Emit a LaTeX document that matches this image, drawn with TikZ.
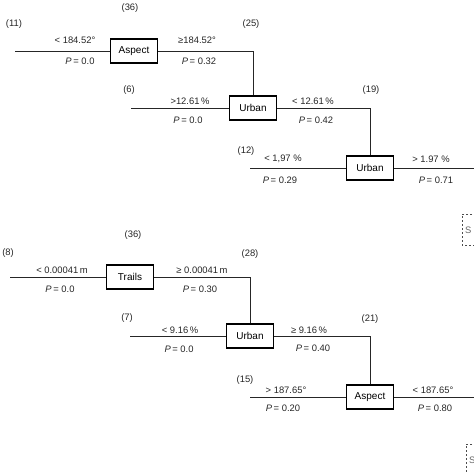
\documentclass[tikz,border=0pt]{standalone}
\usepackage{fontspec}
\setmainfont{Liberation Sans}
\begin{document}
\begin{tikzpicture}[x=1pt,y=-1pt,
  split/.style={draw=black,line width=1.4pt,minimum width=47pt,minimum height=24pt,inner sep=0pt,font=\fontsize{10}{11}\selectfont},
  lbl/.style={font=\fontsize{9.4}{10}\selectfont,text=black!85,inner sep=0pt},
  edge/.style={draw=black!85,line width=1pt},
  stub/.style={draw=black!70,line width=0.6pt,dash pattern=on 2pt off 2pt}]
\useasboundingbox (0,0) rectangle (474,474);
\newcommand{\pv}[1]{\textit{P}\,=\;#1}
% ---------- Tree 1 ----------
\node[split] (a1) at (134,51) {Aspect};
\node[split] (u1) at (253,108) {Urban};
\node[split] (u2) at (370,168) {Urban};
\coordinate (a1l) at (15,51);
\coordinate (u1l) at (131,108);
\coordinate (u2l) at (250,168);
\coordinate (u2r) at (474,168);
\draw[edge] (a1l) -- (a1.west);
\draw[edge] (a1.east) -| (u1.north);
\draw[edge] (u1l) -- (u1.west);
\draw[edge] (u1.east) -| (u2.north);
\draw[edge] (u2l) -- (u2.west);
\draw[edge] (u2.east) -- (u2r);
\node[lbl] (n36a) at (130,8) {(36)};
\node[lbl] (n11) at (14,24) {(11)};
\node[lbl] (n25) at (251,24) {(25)};
\node[lbl] (n6) at (129,90) {(6)};
\node[lbl] (n19) at (371,90) {(19)};
\node[lbl] (n12) at (246,151) {(12)};
\node[lbl] (t1) at (75,40) {< 184.52°};
\node[lbl] (p1) at (80,61) {\pv{0.0}};
\node[lbl] (t2) at (197,40) {≥184.52°};
\node[lbl] (p2) at (199,61) {\pv{0.32}};
\node[lbl] (t3) at (190,101) {>12.61\,\%};
\node[lbl] (p3) at (188,120) {\pv{0.0}};
\node[lbl] (t4) at (313,101) {< 12.61\,\%};
\node[lbl] (p4) at (316,120) {\pv{0.42}};
\node[lbl] (t5) at (283,159) {< 1,97 \%};
\node[lbl] (p5) at (280,180) {\pv{0.29}};
\node[lbl] (t6) at (431,159) {> 1.97 \%};
\node[lbl] (p6) at (436,180) {\pv{0.71}};
% ---------- Tree 2 ----------
\node[split] (tr) at (130,277) {Trails};
\node[split] (u3) at (250,336) {Urban};
\node[split] (a2) at (370,397) {Aspect};
\coordinate (trl) at (10,277);
\coordinate (u3l) at (130,336);
\coordinate (a2l) at (250,397);
\coordinate (a2r) at (474,397);
\draw[edge] (trl) -- (tr.west);
\draw[edge] (tr.east) -| (u3.north);
\draw[edge] (u3l) -- (u3.west);
\draw[edge] (u3.east) -| (a2.north);
\draw[edge] (a2l) -- (a2.west);
\draw[edge] (a2.east) -- (a2r);
\node[lbl] (n36b) at (133,235) {(36)};
\node[lbl] (n8) at (8,253) {(8)};
\node[lbl] (n28) at (250,254) {(28)};
\node[lbl] (n7) at (127,318) {(7)};
\node[lbl] (n21) at (370,319) {(21)};
\node[lbl] (n15) at (245,380) {(15)};
\node[lbl] (s1) at (62,270) {< 0.00041\,m};
\node[lbl] (q1) at (60,289) {\pv{0.0}};
\node[lbl] (s2) at (202,270) {≥ 0.00041\,m};
\node[lbl] (q2) at (200,289) {\pv{0.30}};
\node[lbl] (s3) at (180,330) {< 9.16\,\%};
\node[lbl] (q3) at (179,349) {\pv{0.0}};
\node[lbl] (s4) at (309,330) {≥ 9.16\,\%};
\node[lbl] (q4) at (313,348) {\pv{0.40}};
\node[lbl] (s5) at (286,390) {> 187.65°};
\node[lbl] (q5) at (283,408) {\pv{0.20}};
\node[lbl] (s6) at (433,390) {< 187.65°};
\node[lbl] (q6) at (435,408) {\pv{0.80}};
% ---------- cut-off boxes at right edge ----------
\begin{scope}
\clip (0,0) rectangle (474,474);
\draw[stub] (480,214) -- (462,214) -- (462,245) -- (480,245);
\node[lbl,anchor=west,text=black!60] (sa) at (465,230) {S};
\draw[stub] (480,444) -- (466,444) -- (466,476);
\node[lbl,anchor=west,text=black!60] (sb) at (469,460) {S};
\end{scope}
\end{tikzpicture}
\end{document}
